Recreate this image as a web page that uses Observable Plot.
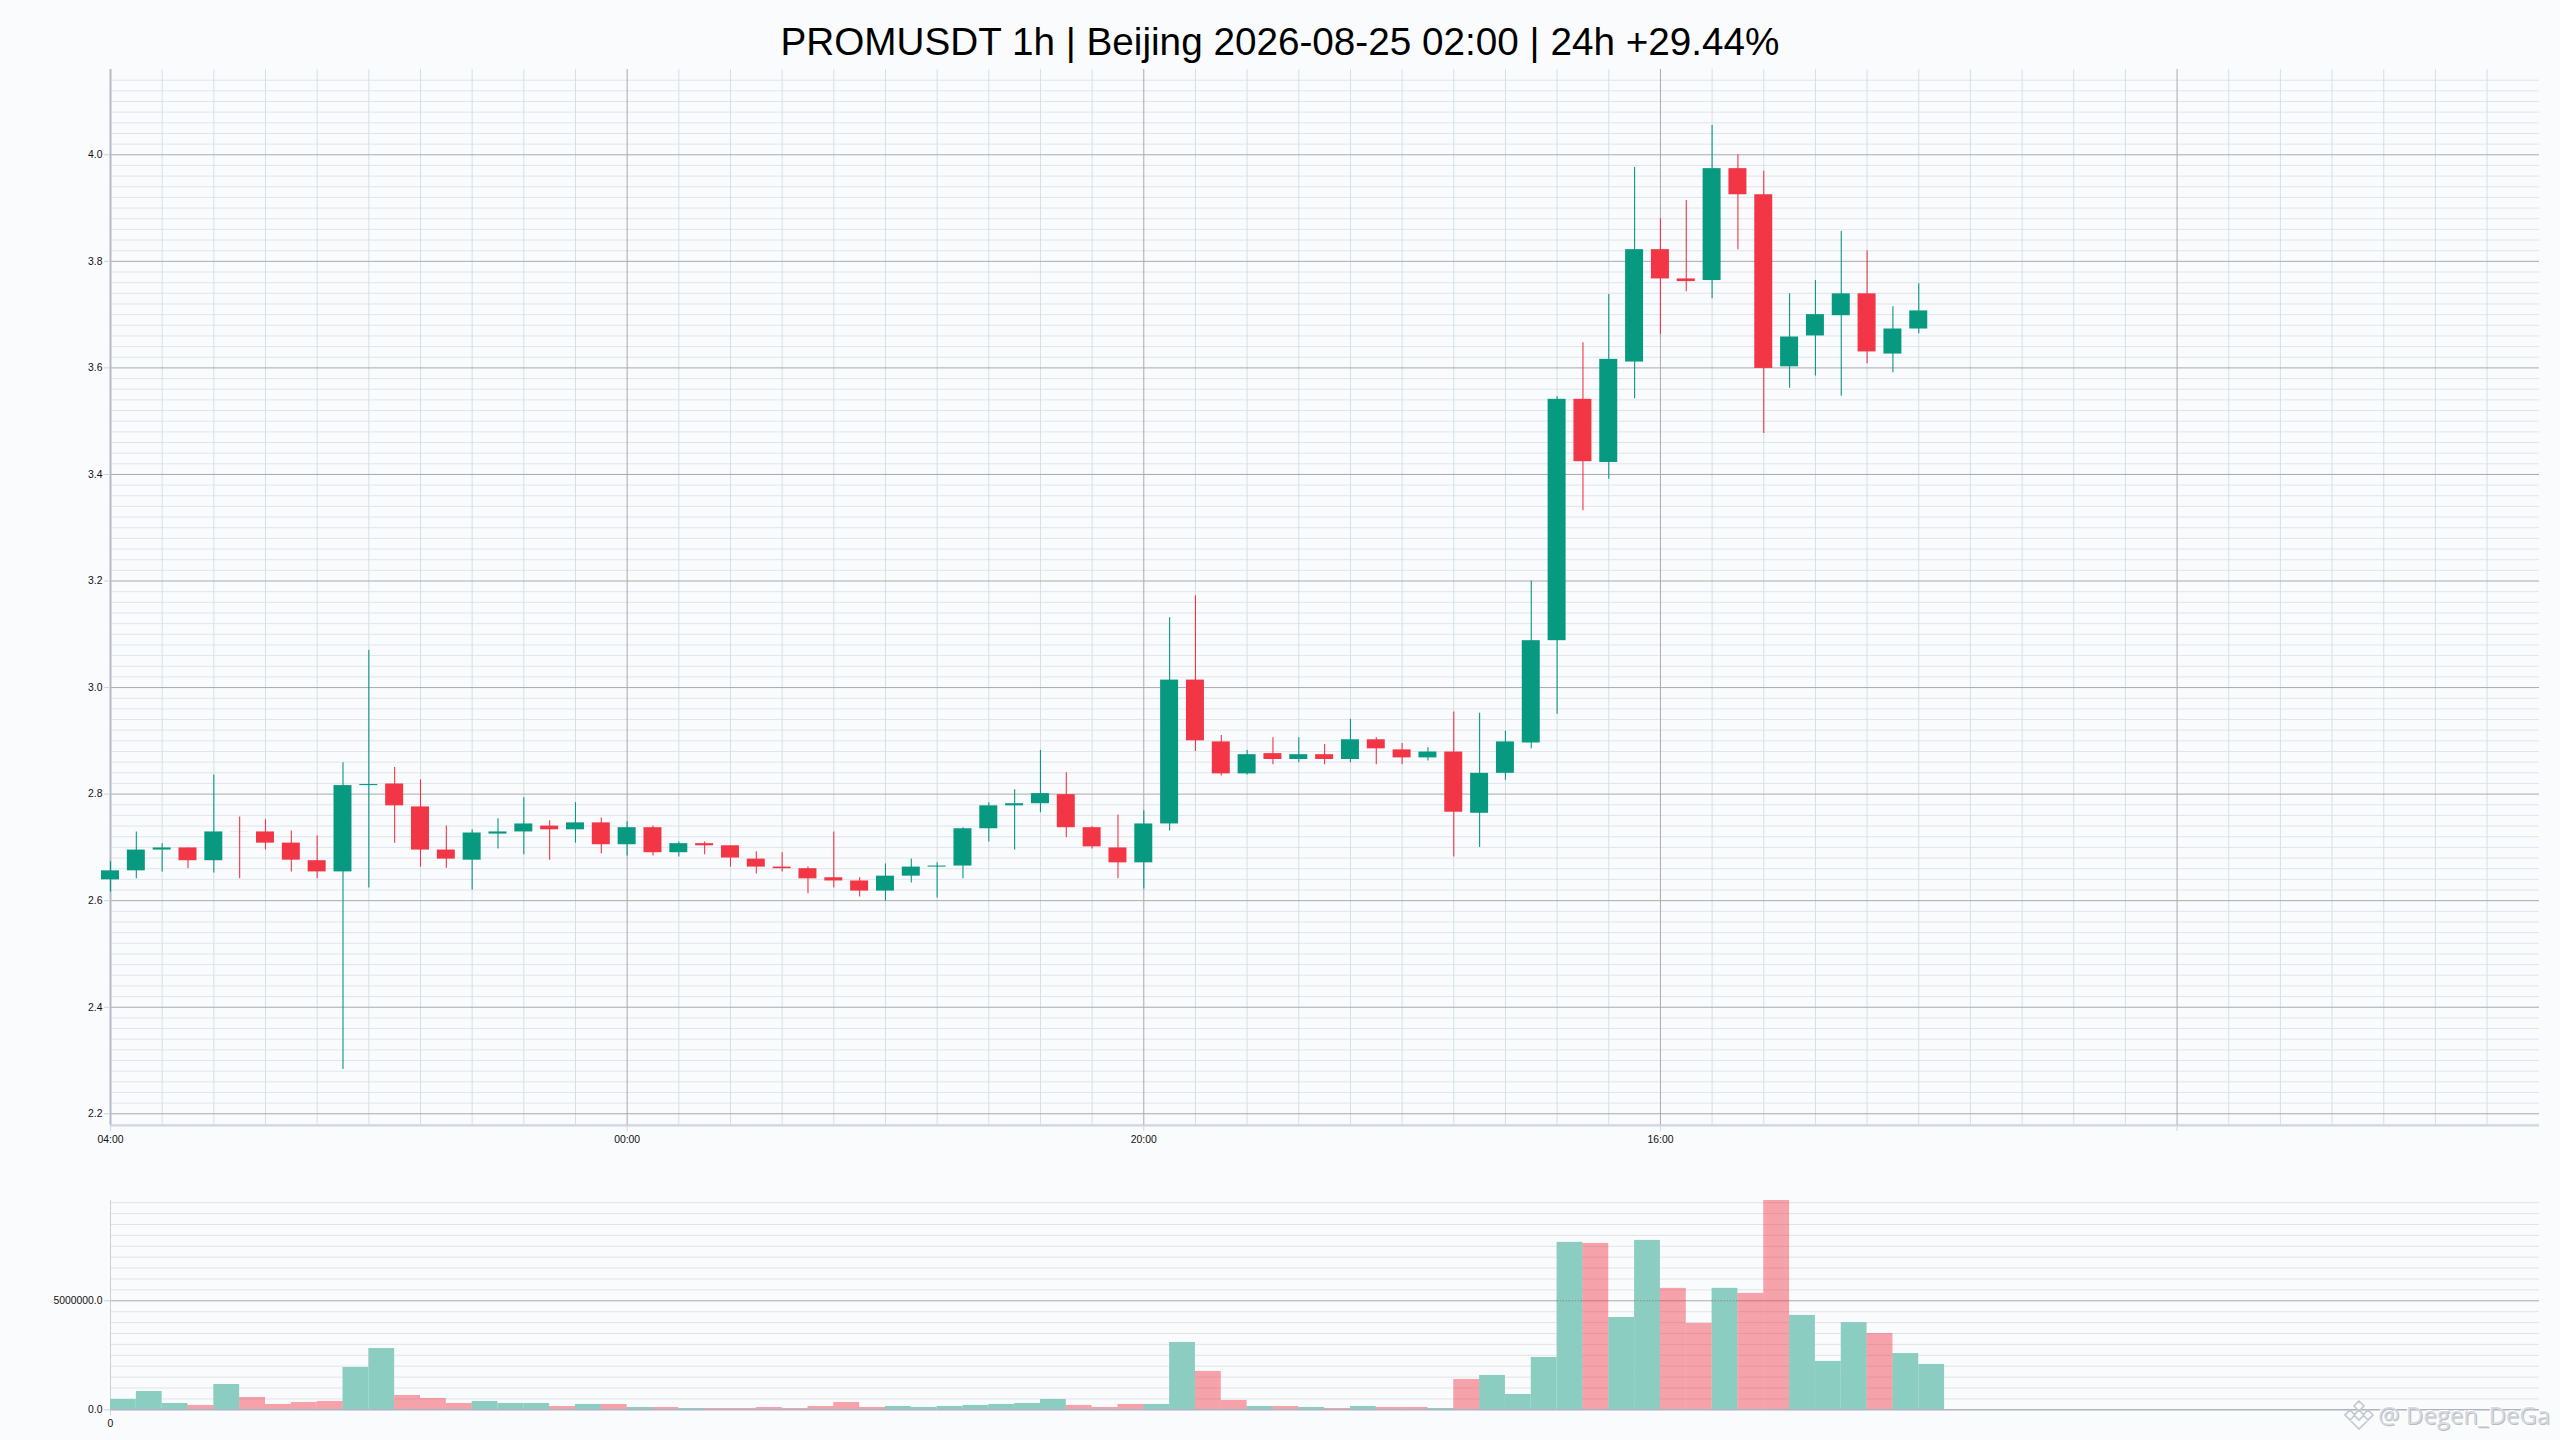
<!DOCTYPE html>
<html>
<head>
<meta charset="utf-8">
<script src="https://cdn.jsdelivr.net/npm/d3@7"></script>
<script src="https://cdn.jsdelivr.net/npm/@observablehq/plot@0.6"></script>
<style>
  html, body { margin: 0; padding: 0; background: #fafbfd; }
  body { position: relative; width: 2560px; height: 1440px; overflow: hidden; font-family: "Liberation Sans", Arial, sans-serif; }
  #title { position: absolute; left: 0; width: 2560px; top: 18px; text-align: center; font-size: 38.7px; line-height: 48px; color: #000; }
  #price, #volume { position: absolute; left: 0; }
  #price { top: 0; }
  #volume { top: 1160px; }
  svg { overflow: visible; }
  #mark { position: absolute; left: 2343px; top: 1396px; display: flex; align-items: center; gap: 3px; color: #d6d9de; font-family: "Open Sans", sans-serif; font-size: 24px; line-height: 38px; white-space: nowrap; text-shadow: 1px 1px 0 #b9bdc4, -1px -1px 0 #ffffff; }
</style>
</head>
<body>
<div id="title">PROMUSDT 1h | Beijing 2026-08-25 02:00 | 24h +29.44%</div>
<div id="price"></div>
<div id="volume"></div>
<div id="mark"><svg width="32" height="32" viewBox="0 0 32 32" fill="none" stroke="#c3c7ce" stroke-width="1.6"><path d="M16 2 L21 7 L16 12 L11 7 Z M7 11 L12 16 L7 21 L2 16 Z M25 11 L30 16 L25 21 L20 16 Z M16 11 L21 16 L16 21 L11 16 Z M6 20 L16 30 L26 20"/></svg><span>@ Degen_DeGa</span></div>
<script>
const opens = [2.639,2.656,2.695,2.699,2.675,2.729,2.729,2.708,2.675,2.654,2.816,2.819,2.776,2.695,2.676,2.725,2.729,2.740,2.733,2.746,2.705,2.737,2.690,2.707,2.703,2.678,2.663,2.660,2.643,2.637,2.618,2.646,2.663,2.665,2.735,2.778,2.782,2.799,2.737,2.699,2.671,2.744,3.014,2.898,2.838,2.876,2.865,2.874,2.865,2.902,2.883,2.868,2.879,2.764,2.839,2.896,3.088,3.541,3.4225,3.611,3.822,3.767,3.764,3.974,3.925,3.602,3.660,3.698,3.739,3.626,3.673];
const closes = [2.656,2.695,2.699,2.675,2.729,2.7288,2.708,2.676,2.654,2.816,2.818,2.778,2.695,2.678,2.727,2.729,2.744,2.733,2.746,2.705,2.737,2.690,2.707,2.703,2.680,2.663,2.660,2.641,2.637,2.618,2.646,2.663,2.665,2.735,2.778,2.782,2.801,2.737,2.701,2.671,2.744,3.014,2.900,2.838,2.874,2.865,2.874,2.865,2.902,2.885,2.868,2.879,2.766,2.839,2.898,3.088,3.541,3.424,3.616,3.822,3.767,3.762,3.974,3.925,3.599,3.658,3.700,3.739,3.630,3.673,3.707];
const highs = [2.673,2.729,2.707,2.699,2.836,2.757,2.752,2.731,2.722,2.859,3.070,2.850,2.827,2.740,2.733,2.754,2.793,2.750,2.784,2.755,2.748,2.740,2.710,2.710,2.703,2.692,2.690,2.663,2.729,2.643,2.669,2.678,2.671,2.737,2.784,2.808,2.882,2.840,2.739,2.761,2.769,3.131,3.172,2.910,2.882,2.906,2.906,2.893,2.940,2.906,2.895,2.887,2.954,2.952,2.918,3.200,3.546,3.647,3.738,3.976,3.880,3.914,4.055,4.000,3.969,3.739,3.764,3.856,3.820,3.715,3.758];
const lows = [2.616,2.641,2.654,2.660,2.652,2.641,2.695,2.654,2.641,2.283,2.624,2.708,2.663,2.661,2.620,2.697,2.686,2.676,2.708,2.688,2.684,2.684,2.682,2.686,2.663,2.650,2.654,2.613,2.624,2.607,2.599,2.633,2.605,2.641,2.710,2.695,2.765,2.718,2.697,2.641,2.622,2.731,2.880,2.834,2.836,2.855,2.859,2.855,2.859,2.855,2.855,2.862,2.682,2.700,2.826,2.885,2.950,3.332,3.391,3.542,3.662,3.743,3.730,3.822,3.477,3.562,3.585,3.547,3.608,3.591,3.664];
const volumesM = [.474,.84,.29,.2,1.16,.566,.245,.336,.382,1.94,2.81,.657,.52,.29,.382,.29,.29,.153,.245,.245,.107,.107,.06,.06,.06,.107,.06,.153,.336,.107,.153,.107,.153,.2,.245,.29,.474,.2,.107,.245,.245,3.09,1.76,.43,.153,.153,.107,.06,.153,.107,.107,.06,1.39,1.575,.703,2.40,7.68,7.63,4.235,7.77,5.57,3.96,5.57,5.34,9.60,4.33,2.22,4.0,3.50,2.58,2.08];
const priceTicks = [2.2,2.4,2.6,2.8,3.0,3.2,3.4,3.6,3.8,4.0];
const timeTicks = [0,20,40,60,80];
const timeLabels = ["04:00","00:00","20:00","16:00",""];
const xDomain = [0, 94.03];
const priceDomain = [2.178, 4.1601];
const volumeDomain = [0, 9.6e6];

const candles = opens.map((o, i) => ({i, o, c: closes[i], h: highs[i], l: lows[i], v: volumesM[i] * 1e6, up: closes[i] >= o}));
const up = candles.filter(d => d.up), down = candles.filter(d => !d.up);
const teal = "#089981", red = "#f23645";
const half = 0.348;
const font = {fontFamily: '"Liberation Sans", Arial, sans-serif', fontSize: "10.4px", background: "transparent", color: "#111"};

const minorPrice = d3.range(2.18, 4.16, 0.02).map(v => +v.toFixed(2)).filter(v => !priceTicks.includes(v));
const minorTime = d3.range(0, 94, 2).filter(v => v % 20 !== 0);
const majorTime = timeTicks;

const price = Plot.plot({
  width: 2560, height: 1160,
  marginLeft: 110, marginRight: 21, marginTop: 69, marginBottom: 35,
  style: font,
  x: {type: "linear", domain: xDomain},
  y: {domain: priceDomain},
  marks: [
    Plot.ruleY(minorPrice, {stroke: "#dee5ef", strokeWidth: 1}),
    Plot.ruleX(minorTime, {stroke: "#d3e0e9", strokeWidth: 1}),
    Plot.ruleY(priceTicks, {stroke: "#a8aab0", strokeWidth: 1}),
    Plot.ruleX(majorTime, {stroke: "#a8aab0", strokeWidth: 1}),
    Plot.ruleX([0], {stroke: "#b4bbc5", strokeWidth: 2}),
    Plot.ruleY([priceDomain[0]], {stroke: "#ced6e0", strokeWidth: 2}),
    Plot.axisY({ticks: priceTicks, tickFormat: d3.format(".1f"), tickSize: 6, tickPadding: 2, stroke: "#c9d2dc", label: null, fill: "#111"}),
    Plot.axisX({ticks: timeTicks, tickFormat: v => timeLabels[timeTicks.indexOf(v)], tickSize: 6, tickPadding: 4, stroke: "#c9d9e6", label: null, fill: "#111"}),
    Plot.ruleX(up, {x: "i", y1: "l", y2: "h", stroke: teal, strokeWidth: 1.1}),
    Plot.ruleX(down, {x: "i", y1: "l", y2: "h", stroke: red, strokeWidth: 1.1}),
    Plot.rect(up, {x1: d => d.i - half, x2: d => d.i + half, y1: "o", y2: "c", fill: teal}),
    Plot.rect(down, {x1: d => d.i - half, x2: d => d.i + half, y1: "o", y2: "c", fill: red})
  ]
});
document.getElementById("price").append(price);

const minorVolume = d3.range(0.5e6, 9.6e6, 0.5e6).filter(v => v !== 5e6);
const volume = Plot.plot({
  width: 2560, height: 280,
  marginLeft: 110, marginRight: 21, marginTop: 40, marginBottom: 30.7,
  style: font,
  x: {type: "linear", domain: xDomain},
  y: {domain: volumeDomain},
  marks: [
    Plot.ruleY(minorVolume, {stroke: "#e2e3e7", strokeWidth: 1}),
    Plot.ruleY([5e6], {stroke: "#a8aab0", strokeWidth: 1}),
    Plot.ruleX([0], {stroke: "#c9ced8", strokeWidth: 1}),
    Plot.rect(up, {x1: "i", x2: d => d.i + 1, y1: 0, y2: "v", fill: "#8ccdc2"}),
    Plot.rect(down, {x1: "i", x2: d => d.i + 1, y1: 0, y2: "v", fill: red, fillOpacity: 0.45}),
    Plot.ruleY(up.filter(d => d.v > 5e6), {y: 5e6, x1: "i", x2: d => d.i + 1, stroke: "#888", strokeDasharray: "1.5 1.5"}),
    Plot.ruleY([0], {stroke: "#adb3c0", strokeWidth: 1.5}),
    Plot.axisY({ticks: [0, 5e6], tickFormat: d3.format(".1f"), tickSize: 6, tickPadding: 2, stroke: "#c9d2dc", label: null, fill: "#111"}),
    Plot.axisX({ticks: [0], tickFormat: d => String(d), tickSize: 6, tickPadding: 4, stroke: "#c9d2dc", label: null, fill: "#111"})
  ]
});
document.getElementById("volume").append(volume);
</script>
</body>
</html>
